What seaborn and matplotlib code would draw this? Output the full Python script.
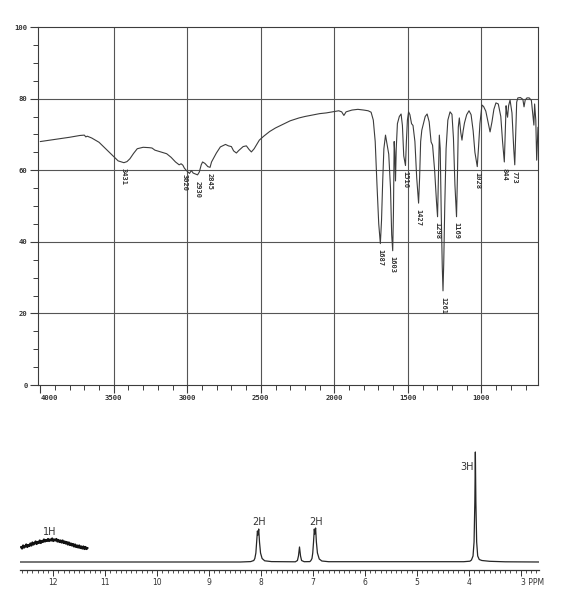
import numpy as np
import pandas as pd
import matplotlib
matplotlib.use("Agg")
import matplotlib.pyplot as plt
import matplotlib.transforms as mtransforms
from matplotlib.ticker import MultipleLocator, FixedLocator, NullLocator
import seaborn as sns

# ---------------- IR spectrum data (wavenumber cm-1, %T) ----------------
ir_wavenumber = [
    4000, 3900, 3800, 3730, 3700, 3690, 3680, 3650, 3600, 3550, 3500, 3470, 3431, 3410, 3390,
    3365, 3340, 3300, 3260, 3240, 3220, 3180, 3140, 3110, 3080, 3055, 3042, 3030, 3020, 3008,
    2998, 2985, 2972, 2960, 2930, 2918, 2905, 2896, 2880, 2860, 2845, 2835, 2802, 2775, 2740,
    2720, 2700, 2685, 2666, 2650, 2620, 2598, 2580, 2564, 2545, 2510, 2480, 2440, 2400, 2350,
    2300, 2240, 2200, 2150, 2100, 2055, 2000, 1970, 1950, 1935, 1920, 1880, 1840, 1800, 1770,
    1750, 1735, 1722, 1710, 1698, 1687, 1679, 1671, 1663, 1652, 1640, 1630, 1618, 1610, 1603,
    1598, 1593, 1589, 1584, 1579, 1571, 1558, 1546, 1537, 1528, 1516, 1510, 1503, 1495, 1486,
    1475, 1465, 1452, 1440, 1427, 1420, 1413, 1405, 1395, 1382, 1369, 1355, 1342, 1332, 1318,
    1305, 1298, 1292, 1286, 1280, 1273, 1266, 1261, 1256, 1249, 1240, 1228, 1213, 1200, 1190,
    1180, 1169, 1163, 1157, 1150, 1140, 1132, 1124, 1115, 1100, 1084, 1070, 1056, 1044, 1028,
    1020, 1010, 996, 985, 970, 955, 941, 928, 915, 901, 885, 868, 856, 844, 838,
    832, 827, 822, 815, 805, 792, 780, 773, 767, 760, 752, 735, 718, 710, 702,
    690, 675, 660, 650, 643, 638, 630, 624, 619, 615]
ir_transmittance = [
    68.0, 68.6, 69.2, 69.7, 69.8, 69.3, 69.5, 69.0, 67.8, 65.8, 63.8, 62.6, 62.1, 62.4, 63.2,
    64.7, 66.0, 66.4, 66.3, 66.2, 65.6, 65.1, 64.6, 63.6, 62.3, 61.5, 61.8, 61.4, 60.6, 60.0,
    59.6, 59.1, 59.9, 59.2, 58.7, 59.5, 61.5, 62.3, 61.9, 61.0, 60.8, 62.3, 64.8, 66.5, 67.2,
    66.8, 66.6, 65.4, 64.8, 65.5, 66.6, 66.8, 65.8, 65.1, 66.0, 68.4, 69.5, 70.8, 71.8, 72.8,
    73.8, 74.6, 75.0, 75.4, 75.8, 76.0, 76.4, 76.6, 76.3, 75.3, 76.3, 76.8, 77.0, 76.8, 76.6,
    76.2, 74.0, 68.0, 56.0, 45.0, 39.5, 46.0, 57.0, 66.0, 69.8, 67.0, 64.5, 55.0, 42.0, 37.5,
    48.0, 68.0, 65.0, 57.0, 66.0, 73.0, 75.0, 75.7, 72.5, 64.0, 61.3, 68.0, 74.0, 76.3, 75.5,
    73.0, 72.5, 68.0, 58.0, 50.8, 58.0, 68.0, 71.2, 72.8, 75.0, 75.7, 73.5, 67.9, 67.0, 60.0,
    51.0, 47.0, 58.0, 69.8, 66.0, 48.0, 33.0, 26.3, 34.0, 50.0, 66.0, 74.0, 76.3, 75.6, 69.0,
    56.0, 47.0, 58.0, 72.0, 74.6, 70.5, 68.4, 71.0, 73.2, 75.5, 76.6, 75.5, 71.0, 65.0, 61.0,
    66.0, 73.0, 78.2, 77.8, 76.5, 73.5, 70.7, 73.5, 77.0, 78.8, 78.5, 75.0, 68.0, 62.3, 70.0,
    78.0, 76.0, 74.8, 78.0, 79.6, 76.0, 66.0, 61.5, 70.0, 79.0, 80.2, 80.3, 79.8, 77.7, 79.6,
    80.2, 80.2, 79.5, 75.5, 72.6, 78.5, 74.0, 62.8, 68.0, 72.0]

ir_peak_labels = ["3431", "3020", "2930", "2845", "1687", "1603", "1516",
                  "1427", "1298", "1261", "1169", "1028", "844", "773"]
ir_xticks = [4000, 3500, 3000, 2500, 2000, 1500, 1000]
ir_yticks = [0, 20, 40, 60, 80, 100]

# ---------------- 1H NMR data (ppm, intensity) ----------------
nmr_ppm = [12.64, 8.40, 8.20, 8.14, 8.12, 8.10, 8.085, 8.07, 8.06, 8.045, 8.03, 8.01,
           7.98, 7.93, 7.80, 7.34, 7.30, 7.28, 7.26, 7.24, 7.22, 7.17, 7.06, 7.04, 7.02,
           7.005, 6.99, 6.975, 6.965, 6.95, 6.935, 6.915, 6.88, 6.83, 6.70, 4.10, 3.98,
           3.95, 3.92, 3.90, 3.885, 3.875, 3.865, 3.85, 3.83, 3.80, 3.75, 3.60, 3.30, 2.65]
nmr_intensity = [0, 0, 0.4, 1.5, 3.5, 9, 20, 31, 27, 33, 20, 9,
                 3.5, 1.2, 0.4, 0.2, 1.5, 6, 15, 6, 1.5, 0.3, 0.4, 1.5, 3.5,
                 9, 20, 33, 28, 34, 20, 9, 3.0, 1.0, 0.3, 0.3, 0.8,
                 2, 6, 20, 60, 110, 60, 20, 6, 2.5, 1.5, 0.7, 0.2, 0]

hump_ppm = [12.62, 12.60, 12.58, 12.56, 12.54, 12.52, 12.50, 12.48, 12.46, 12.44, 12.42,
            12.40, 12.38, 12.36, 12.34, 12.32, 12.30, 12.28, 12.26, 12.24, 12.22, 12.20,
            12.18, 12.16, 12.14, 12.12, 12.10, 12.08, 12.06, 12.04, 12.02, 12.00, 11.98,
            11.96, 11.94, 11.92, 11.90, 11.88, 11.86, 11.84, 11.82, 11.80, 11.78, 11.76,
            11.74, 11.72, 11.70, 11.68, 11.66, 11.64, 11.62, 11.60, 11.58, 11.56, 11.54,
            11.52, 11.50, 11.48, 11.46, 11.44, 11.42, 11.40, 11.38, 11.36, 11.34]
hump_intensity = [15.0, 13.5, 16.5, 14.5, 15.5, 17.5, 15.0, 17.0, 16.0, 18.5, 16.5,
                  19.5, 17.5, 18.5, 20.5, 18.0, 20.0, 19.0, 21.5, 19.0, 21.0, 20.0,
                  22.5, 20.5, 22.0, 21.0, 23.0, 21.0, 22.5, 21.5, 23.5, 21.0, 22.5,
                  21.5, 23.0, 20.5, 22.0, 20.0, 21.5, 19.5, 21.5, 19.0, 20.5, 18.5,
                  20.0, 17.5, 19.5, 17.0, 18.5, 16.5, 18.0, 15.5, 17.5, 15.0, 16.5,
                  14.5, 16.5, 14.0, 15.5, 13.5, 15.5, 13.0, 15.0, 13.0, 14.0]

nmr_labels = ["1H", "2H", "2H", "3H"]
nmr_label_ppm = [12.06, 8.04, 6.94, 4.04]
nmr_label_height = [30, 40, 40, 95]
nmr_ticks = [12, 11, 10, 9, 8, 7, 6, 5, 4, 3]

# ---------------- figure ----------------
sns.set_style("white")
plt.rcParams['font.family'] = ['DejaVu Sans']

W, H = 567, 594
fig = plt.figure(figsize=(W / 100, H / 100), dpi=100)


def px_axes(x0, y0, x1, y1):
    return fig.add_axes([x0 / W, 1 - y1 / H, (x1 - x0) / W, (y1 - y0) / H])


INK = "#3c3c3c"
mono = dict(family="DejaVu Sans Mono", fontweight="bold", color="#333333")

# ---- IR ----
ax = px_axes(38, 27, 538, 385)
ir_df = pd.DataFrame({"wavenumber": ir_wavenumber, "T": ir_transmittance})
sns.lineplot(data=ir_df, x="wavenumber", y="T", ax=ax, color=INK, lw=0.8,
             sort=False, estimator=None)
ax.set_xlim(4015, 615)
ax.set_ylim(0, 100)
ax.set_xlabel("")
ax.set_ylabel("")
for t in ir_xticks[1:]:
    ax.axvline(t, color="#555555", lw=0.8, zorder=0)
for t in ir_yticks[1:-1]:
    ax.axhline(t, color="#555555", lw=0.8, zorder=0)
ax.xaxis.set_major_locator(FixedLocator(ir_xticks))
ax.xaxis.set_minor_locator(MultipleLocator(100))
ax.yaxis.set_major_locator(FixedLocator(ir_yticks))
ax.yaxis.set_minor_locator(MultipleLocator(5))
ax.set_xticklabels([f"{t}" for t in ir_xticks], fontsize=5.2, **mono)
ax.set_yticklabels([f"{t}" for t in ir_yticks], fontsize=5.2, **mono)
ax.get_xticklabels()[0].set_ha("left")
ax.tick_params(axis="both", which="major", direction="out", length=6, width=0.8,
               color=INK, pad=1.5, bottom=True, left=True)
ax.tick_params(axis="both", which="minor", direction="out", length=3.5, width=0.7,
               color=INK, bottom=True, left=True)
for s in ax.spines.values():
    s.set_visible(True)
    s.set_color(INK)
    s.set_linewidth(0.8)

for lab in ir_peak_labels:
    wn = float(lab)
    tmin = np.interp(wn, ir_wavenumber[::-1], ir_transmittance[::-1])
    ax.text(wn, tmin - 1.6, lab, rotation=270, ha="center", va="top",
            fontsize=5, **mono)

# ---- NMR ----
ax2 = px_axes(20, 440, 539, 570)
nmr_df = pd.DataFrame({"ppm": nmr_ppm, "I": nmr_intensity})
hump_df = pd.DataFrame({"ppm": hump_ppm, "I": hump_intensity})
sns.lineplot(data=nmr_df, x="ppm", y="I", ax=ax2, color="#262626", lw=0.9,
             sort=False, estimator=None)
sns.lineplot(data=hump_df, x="ppm", y="I", ax=ax2, color="#111111", lw=1.6,
             sort=False, estimator=None)
ax2.set_xlim(12.64, 2.65)
ax2.set_ylim(-8, 122)
ax2.set_xlabel("")
ax2.set_ylabel("")
ax2.yaxis.set_major_locator(NullLocator())
for side in ["top", "left", "right"]:
    ax2.spines[side].set_visible(False)
ax2.spines["bottom"].set_visible(True)
ax2.spines["bottom"].set_color("#333333")
ax2.spines["bottom"].set_linewidth(0.9)
ax2.xaxis.set_major_locator(FixedLocator(nmr_ticks))
ax2.xaxis.set_minor_locator(MultipleLocator(0.1))
ax2.set_xticklabels([("3 PPM" if t == 3 else str(t)) for t in nmr_ticks],
                    fontsize=5.5, color="#333333")
lbl3 = ax2.get_xticklabels()[-1]
lbl3.set_ha("left")
lbl3.set_transform(lbl3.get_transform() +
                   mtransforms.ScaledTranslation(-2.5 / 100, 0, fig.dpi_scale_trans))
ax2.tick_params(axis="x", which="major", direction="out", length=4, width=0.7,
                color="#333333", pad=1.5, bottom=True)
ax2.tick_params(axis="x", which="minor", direction="out", length=2.5, width=0.6,
                color="#333333", bottom=True)

for lab, p, h in zip(nmr_labels, nmr_label_ppm, nmr_label_height):
    ax2.text(p, h, lab, ha="center", va="center", fontsize=7, color="#333333")

fig.savefig("out.png", dpi=100)
